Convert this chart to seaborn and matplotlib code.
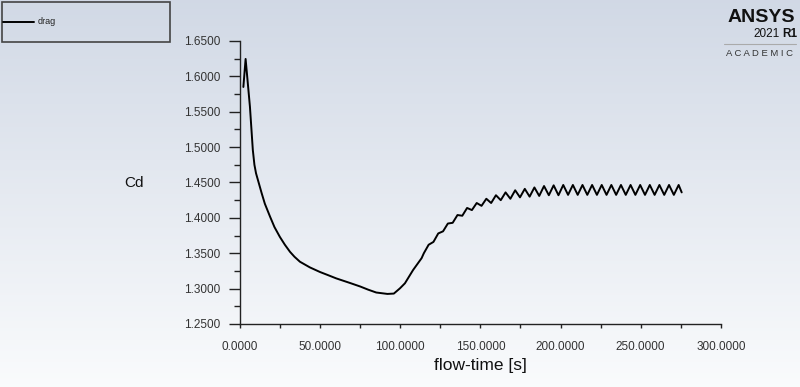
import numpy as np
import pandas as pd
import seaborn as sns
import matplotlib.pyplot as plt
from matplotlib.ticker import MultipleLocator, FormatStrFormatter

# drag coefficient history
flow_time = [2.1, 3.5, 6.2, 8.0, 9.0, 10.0, 13.5, 15.5, 18.7, 21.5, 24.9, 28.0, 31.2, 34.0,
             37.4, 43.6, 49.9, 55.0, 60.0, 68.6, 75.0, 80.0, 85.0, 92.0, 96.0, 99.8,
             102.9, 108.0, 113.3,
             114.7, 117.7, 120.7, 123.7, 126.7, 129.7, 132.7, 135.7, 138.7, 141.7,
             144.7, 147.7, 150.7, 153.7, 156.7, 159.7, 162.7, 165.7, 168.7, 171.7,
             174.7, 177.7, 180.7, 183.7, 186.7, 189.7, 192.7, 195.7, 198.7, 201.7,
             204.7, 207.7, 210.7, 213.7, 216.7, 219.7, 222.7, 225.7, 228.7, 231.7,
             234.7, 237.7, 240.7, 243.7, 246.7, 249.7, 252.7, 255.7, 258.7, 261.7,
             264.7, 267.7, 270.7, 273.7, 275.6]
cd = [1.585, 1.6246, 1.557, 1.496, 1.475, 1.463, 1.435, 1.420, 1.402, 1.387, 1.373, 1.362,
      1.352, 1.345, 1.338, 1.330, 1.3235, 1.319, 1.3145, 1.308, 1.303, 1.2985, 1.2945,
      1.2925, 1.2930, 1.3004, 1.3075, 1.3263, 1.343,
      1.350, 1.362, 1.366, 1.378, 1.381, 1.392, 1.393, 1.404, 1.403, 1.414,
      1.411, 1.421, 1.417, 1.427, 1.421, 1.432, 1.425, 1.436, 1.427, 1.439,
      1.429, 1.441, 1.430, 1.443, 1.431, 1.445, 1.432, 1.446, 1.432, 1.4465,
      1.4325, 1.4465, 1.4325, 1.4465, 1.4325, 1.4465, 1.4325, 1.4465, 1.4325, 1.4465,
      1.4325, 1.4465, 1.4325, 1.4465, 1.4325, 1.4465, 1.4325, 1.4465, 1.4325, 1.4465,
      1.4325, 1.4465, 1.4325, 1.4465, 1.436]

df = pd.DataFrame({'flow-time': flow_time, 'Cd': cd})

sns.set_style('white')
plt.rcParams['font.family'] = ['Liberation Sans', 'DejaVu Sans']

fig = plt.figure(figsize=(8, 3.87), dpi=100)

# gradient background like the Fluent window
bg = fig.add_axes([0, 0, 1, 1], zorder=0)
grad = np.linspace(0, 1, 256).reshape(-1, 1)
top = np.array([0.82, 0.85, 0.90])
bottom = np.array([0.98, 0.985, 0.99])
img = top + (bottom - top) * grad[..., None]
bg.imshow(img, aspect='auto', extent=[0, 1, 0, 1])
bg.axis('off')

ax = fig.add_axes([0.3, 0.1628, 0.601, 0.7313], zorder=1)
ax.patch.set_alpha(0)
sns.lineplot(data=df, x='flow-time', y='Cd', ax=ax, color='black', linewidth=1.4,
             sort=False, estimator=None)

ax.set_xlim(0, 300)
ax.set_ylim(1.25, 1.65)
ax.xaxis.set_major_locator(MultipleLocator(50))
ax.xaxis.set_minor_locator(MultipleLocator(25))
ax.yaxis.set_major_locator(MultipleLocator(0.05))
ax.yaxis.set_minor_locator(MultipleLocator(0.025))
ax.xaxis.set_major_formatter(FormatStrFormatter('%.4f'))
ax.yaxis.set_major_formatter(FormatStrFormatter('%.4f'))
for s in ['top', 'right']:
    ax.spines[s].set_visible(False)
for s in ['left', 'bottom']:
    ax.spines[s].set_color('#222222')
    ax.spines[s].set_linewidth(1.0)
ax.tick_params(axis='y', which='major', length=8, width=1, color='#222222',
               labelsize=8.5, labelcolor='#333333', pad=6, left=True)
ax.tick_params(axis='y', which='minor', length=4, width=1, color='#222222', left=True)
ax.tick_params(axis='x', which='both', length=3, width=1, color='#222222',
               labelsize=8.5, labelcolor='#333333', pad=9, bottom=True)

ax.set_xlabel('flow-time [s]', fontsize=12.5, color='#111111', labelpad=4)
ax.set_ylabel('')
fig.text(134 / 800, 1 - 183 / 387, 'Cd', fontsize=11, ha='center', va='center', color='#111111')

# legend box
fig.patches.append(plt.Rectangle((2 / 800, 1 - 42 / 387), 168 / 800, 40 / 387,
                                 transform=fig.transFigure, fill=False,
                                 edgecolor='#444444', linewidth=1.2))
fig.lines.append(plt.Line2D([3 / 800, 34 / 800], [1 - 22 / 387, 1 - 22 / 387],
                            transform=fig.transFigure, color='black', linewidth=1.4))
fig.text(38 / 800, 1 - 22 / 387, 'drag', fontsize=6.5, ha='left', va='center', color='#222222')

# ANSYS logo text
fig.text(795 / 800, 1 - 18 / 387, 'ANSYS', fontsize=14, fontweight='bold',
         ha='right', va='center', color='#111111')
fig.text(780 / 800, 1 - 34 / 387, '2021', fontsize=8.5, ha='right', va='center', color='#111111')
fig.text(782 / 800, 1 - 34 / 387, 'R1', fontsize=8.5, fontweight='bold',
         ha='left', va='center', color='#111111')
fig.lines.append(plt.Line2D([724 / 800, 796 / 800], [1 - 44 / 387, 1 - 44 / 387],
                            transform=fig.transFigure, color='#aaaaaa', linewidth=0.8))
fig.text(760 / 800, 1 - 54 / 387, 'A C A D E M I C', fontsize=6.8,
         ha='center', va='center', color='#333333')

fig.savefig('out.png', dpi=100)
